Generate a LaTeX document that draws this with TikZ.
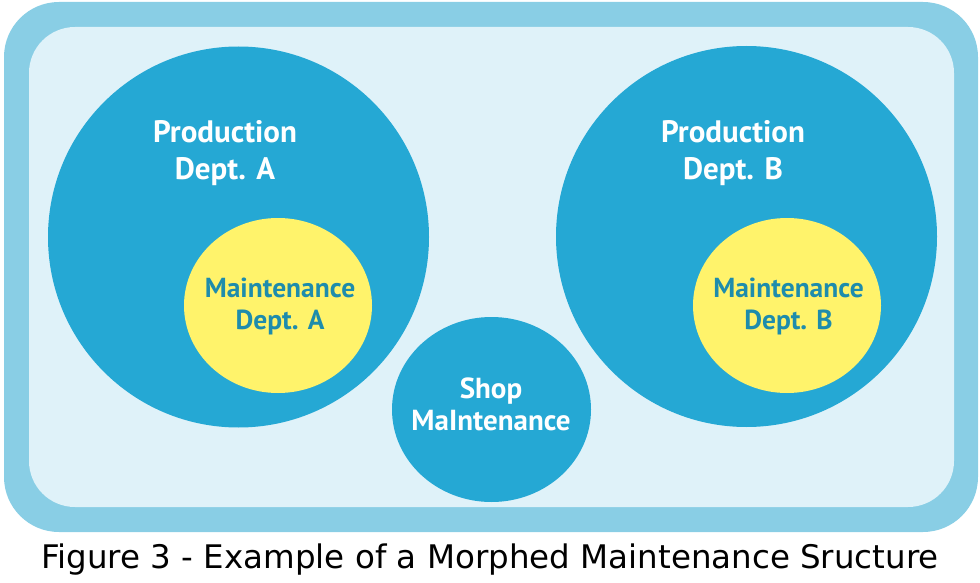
\documentclass[tikz,border=0pt]{standalone}
\usepackage{fontspec}
\setmainfont{PT Sans}
\newfontfamily\captionfont{DejaVu Sans}
\usetikzlibrary{shapes.geometric,positioning}
\definecolor{bandblue}{RGB}{137,206,229}
\definecolor{paleblue}{RGB}{223,242,249}
\definecolor{deptblue}{RGB}{37,168,212}
\definecolor{maintyellow}{RGB}{255,243,107}
\definecolor{mainttext}{RGB}{30,140,172}
\tikzset{
    deptcircle/.style={circle,fill=deptblue,minimum size=381pt,inner sep=0pt},
    maintcircle/.style={ellipse,fill=maintyellow,minimum width=188pt,minimum height=175pt,inner sep=0pt},
    shopcircle/.style={ellipse,fill=deptblue,minimum width=199pt,minimum height=185pt,inner sep=0pt},
    deptlabel/.style={text=white,font=\bfseries\fontsize{31}{37}\selectfont,align=center,inner sep=0pt},
    maintlabel/.style={text=mainttext,font=\bfseries\fontsize{27.5}{32}\selectfont,align=center,inner sep=0pt},
    captionlabel/.style={text=black,font=\captionfont\fontsize{32.5}{36}\selectfont,inner sep=0pt}
}
\begin{document}
\begin{tikzpicture}[x=1pt,y=-1pt]
            \useasboundingbox (0,0) rectangle (980,583);
            \fill[bandblue,rounded corners=55pt] (4,2) rectangle (978,532);
            \fill[paleblue,rounded corners=46pt] (29,27) rectangle (954,507);
            \node[deptcircle] (proda) at (238.5,237) {};
            \node[deptcircle] (prodb) at (746.5,236.5) {};
            \node[maintcircle] (mainta) at (278,305.5) {};
            \node[maintcircle] (maintb) at (787,305.5) {};
            \node[shopcircle] (shop) at (491.5,409.5) {};
            \node[deptlabel] (proda label) at (225,153) {Production\\Dept. A};
            \node[deptlabel] (prodb label) at (733,153) {Production\\Dept. B};
            \node[maintlabel] (mainta label) at (280,306) {Maintenance\\Dept. A};
            \node[maintlabel] (maintb label) at (788.5,306) {Maintenance\\Dept. B};
            \node[deptlabel,font=\bfseries\fontsize{29}{32}\selectfont] (shop label) at (491,404) {Shop\\MaIntenance};
            \node[captionlabel] (caption) at (490,560) {Figure 3 - Example of a Morphed Maintenance Sructure};
        \end{tikzpicture}
\end{document}
